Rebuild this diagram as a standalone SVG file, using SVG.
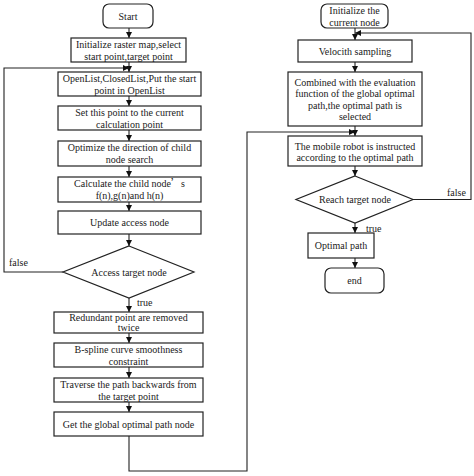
<svg xmlns="http://www.w3.org/2000/svg" width="474" height="476" viewBox="0 0 474 476">
<style>
.b{fill:#fff;stroke:#222;stroke-width:1.2}
.c{fill:none;stroke:#222;stroke-width:1.1}
text{font-family:"Liberation Serif","Times New Roman",serif;font-size:10px;fill:#1a1a1a;text-anchor:middle}
.l{text-anchor:start}
</style>
<defs>
<marker id="a" markerUnits="userSpaceOnUse" markerWidth="7" markerHeight="6" refX="6" refY="3" orient="auto">
<path d="M0,0 L6,3 L0,6 Z" fill="#111"/>
</marker>
</defs>
<rect width="474" height="476" fill="#fff"/>
<g id="connectors">
<path class="c" d="M129,28 V38" marker-end="url(#a)"/>
<path class="c" d="M129,62 V72" marker-end="url(#a)"/>
<path class="c" d="M129,96 V106" marker-end="url(#a)"/>
<path class="c" d="M129,130 V141" marker-end="url(#a)"/>
<path class="c" d="M129,166 V177" marker-end="url(#a)"/>
<path class="c" d="M129,202 V211" marker-end="url(#a)"/>
<path class="c" d="M129,234 V246" marker-end="url(#a)"/>
<path class="c" d="M129,298 V312" marker-end="url(#a)"/>
<path class="c" d="M129,333 V343" marker-end="url(#a)"/>
<path class="c" d="M129,367 V378" marker-end="url(#a)"/>
<path class="c" d="M129,402 V412" marker-end="url(#a)"/>
<path class="c" d="M63,272 H4 V68 H129" marker-end="url(#a)"/>
<path class="c" d="M129,436 V471 H247 V132 H355" marker-end="url(#a)"/>
<path class="c" d="M355,28 V40" marker-end="url(#a)"/>
<path class="c" d="M355,62 V72" marker-end="url(#a)"/>
<path class="c" d="M355,126 V136" marker-end="url(#a)"/>
<path class="c" d="M355,166 V176" marker-end="url(#a)"/>
<path class="c" d="M355,223 V233" marker-end="url(#a)"/>
<path class="c" d="M355,258 V268" marker-end="url(#a)"/>
<path class="c" d="M413,199.5 H471 V33 H355" marker-end="url(#a)"/>
<text class="l" x="9" y="266">false</text>
<text class="l" x="137" y="306">true</text>
<text class="l" x="447" y="196">false</text>
<text class="l" x="366" y="232">true</text>
</g>
<g id="start"><rect class="b" x="103" y="4" width="50" height="24" rx="6"/><text x="128" y="19.5">Start</text></g>
<g id="init-map"><rect class="b" x="71" y="38" width="115" height="24"/><text x="128.5" y="48">Initialize raster map,select</text><text x="128.5" y="60">start point,target point</text></g>
<g id="openlist"><rect class="b" x="58" y="72" width="143" height="24"/><text x="129.5" y="82">OpenList,ClosedList,Put the start</text><text x="129.5" y="94">point in OpenList</text></g>
<g id="set-point"><rect class="b" x="58" y="106" width="143" height="24"/><text x="129.5" y="116">Set this point to the current</text><text x="129.5" y="128">calculation point</text></g>
<g id="optimize"><rect class="b" x="58" y="141" width="143" height="25"/><text x="129.5" y="151">Optimize the direction of child</text><text x="129.5" y="163">node search</text></g>
<g id="calculate"><rect class="b" x="58" y="177" width="143" height="25"/><text x="129.5" y="187">Calculate the child node<tspan font-family="Noto Sans CJK SC,sans-serif">’</tspan>s</text><text x="129.5" y="199">f(n),g(n)and h(n)</text></g>
<g id="update"><rect class="b" x="58" y="211" width="143" height="23"/><text x="129.5" y="226">Update access node</text></g>
<g id="access-target"><path class="b" d="M129,246 L194,272 L129,298 L63,272 Z"/><text x="129" y="275.5">Access target node</text></g>
<g id="redundant"><rect class="b" x="54" y="312" width="149" height="21"/><text x="128.5" y="320.5">Redundant point are removed</text><text x="128.5" y="331">twice</text></g>
<g id="bspline"><rect class="b" x="54" y="343" width="149" height="24"/><text x="128.5" y="353">B-spline curve smoothness</text><text x="128.5" y="365">constraint</text></g>
<g id="traverse"><rect class="b" x="54" y="378" width="149" height="24"/><text x="128.5" y="388">Traverse the path backwards from</text><text x="128.5" y="400">the target point</text></g>
<g id="global-node"><rect class="b" x="54" y="412" width="149" height="24"/><text x="128.5" y="427.5">Get the global optimal path node</text></g>
<g id="init-current"><rect class="b" x="321" y="4" width="67" height="24" rx="6"/><text x="354.5" y="14">Initialize the</text><text x="354.5" y="26">current node</text></g>
<g id="velocity"><rect class="b" x="298" y="40" width="114" height="22"/><text x="355" y="54.5">Velocith sampling</text></g>
<g id="combined"><rect class="b" x="288" y="72" width="134" height="54"/><text x="355" y="85.5">Combined with the evaluation</text><text x="355" y="97">function of the global optimal</text><text x="355" y="108.5">path,the optimal path is</text><text x="355" y="120">selected</text></g>
<g id="robot"><rect class="b" x="288" y="136" width="134" height="30"/><text x="355" y="149.5">The mobile robot is instructed</text><text x="355" y="161">according to the optimal path</text></g>
<g id="reach-target"><path class="b" d="M355,176 L413,199.5 L355,223 L296,199.5 Z"/><text x="355" y="203">Reach target node</text></g>
<g id="optimal-path"><rect class="b" x="308" y="233" width="66" height="25"/><text x="341" y="249">Optimal path</text></g>
<g id="end"><rect class="b" x="325" y="268" width="59" height="25" rx="6"/><text x="354.5" y="284">end</text></g>
</svg>
